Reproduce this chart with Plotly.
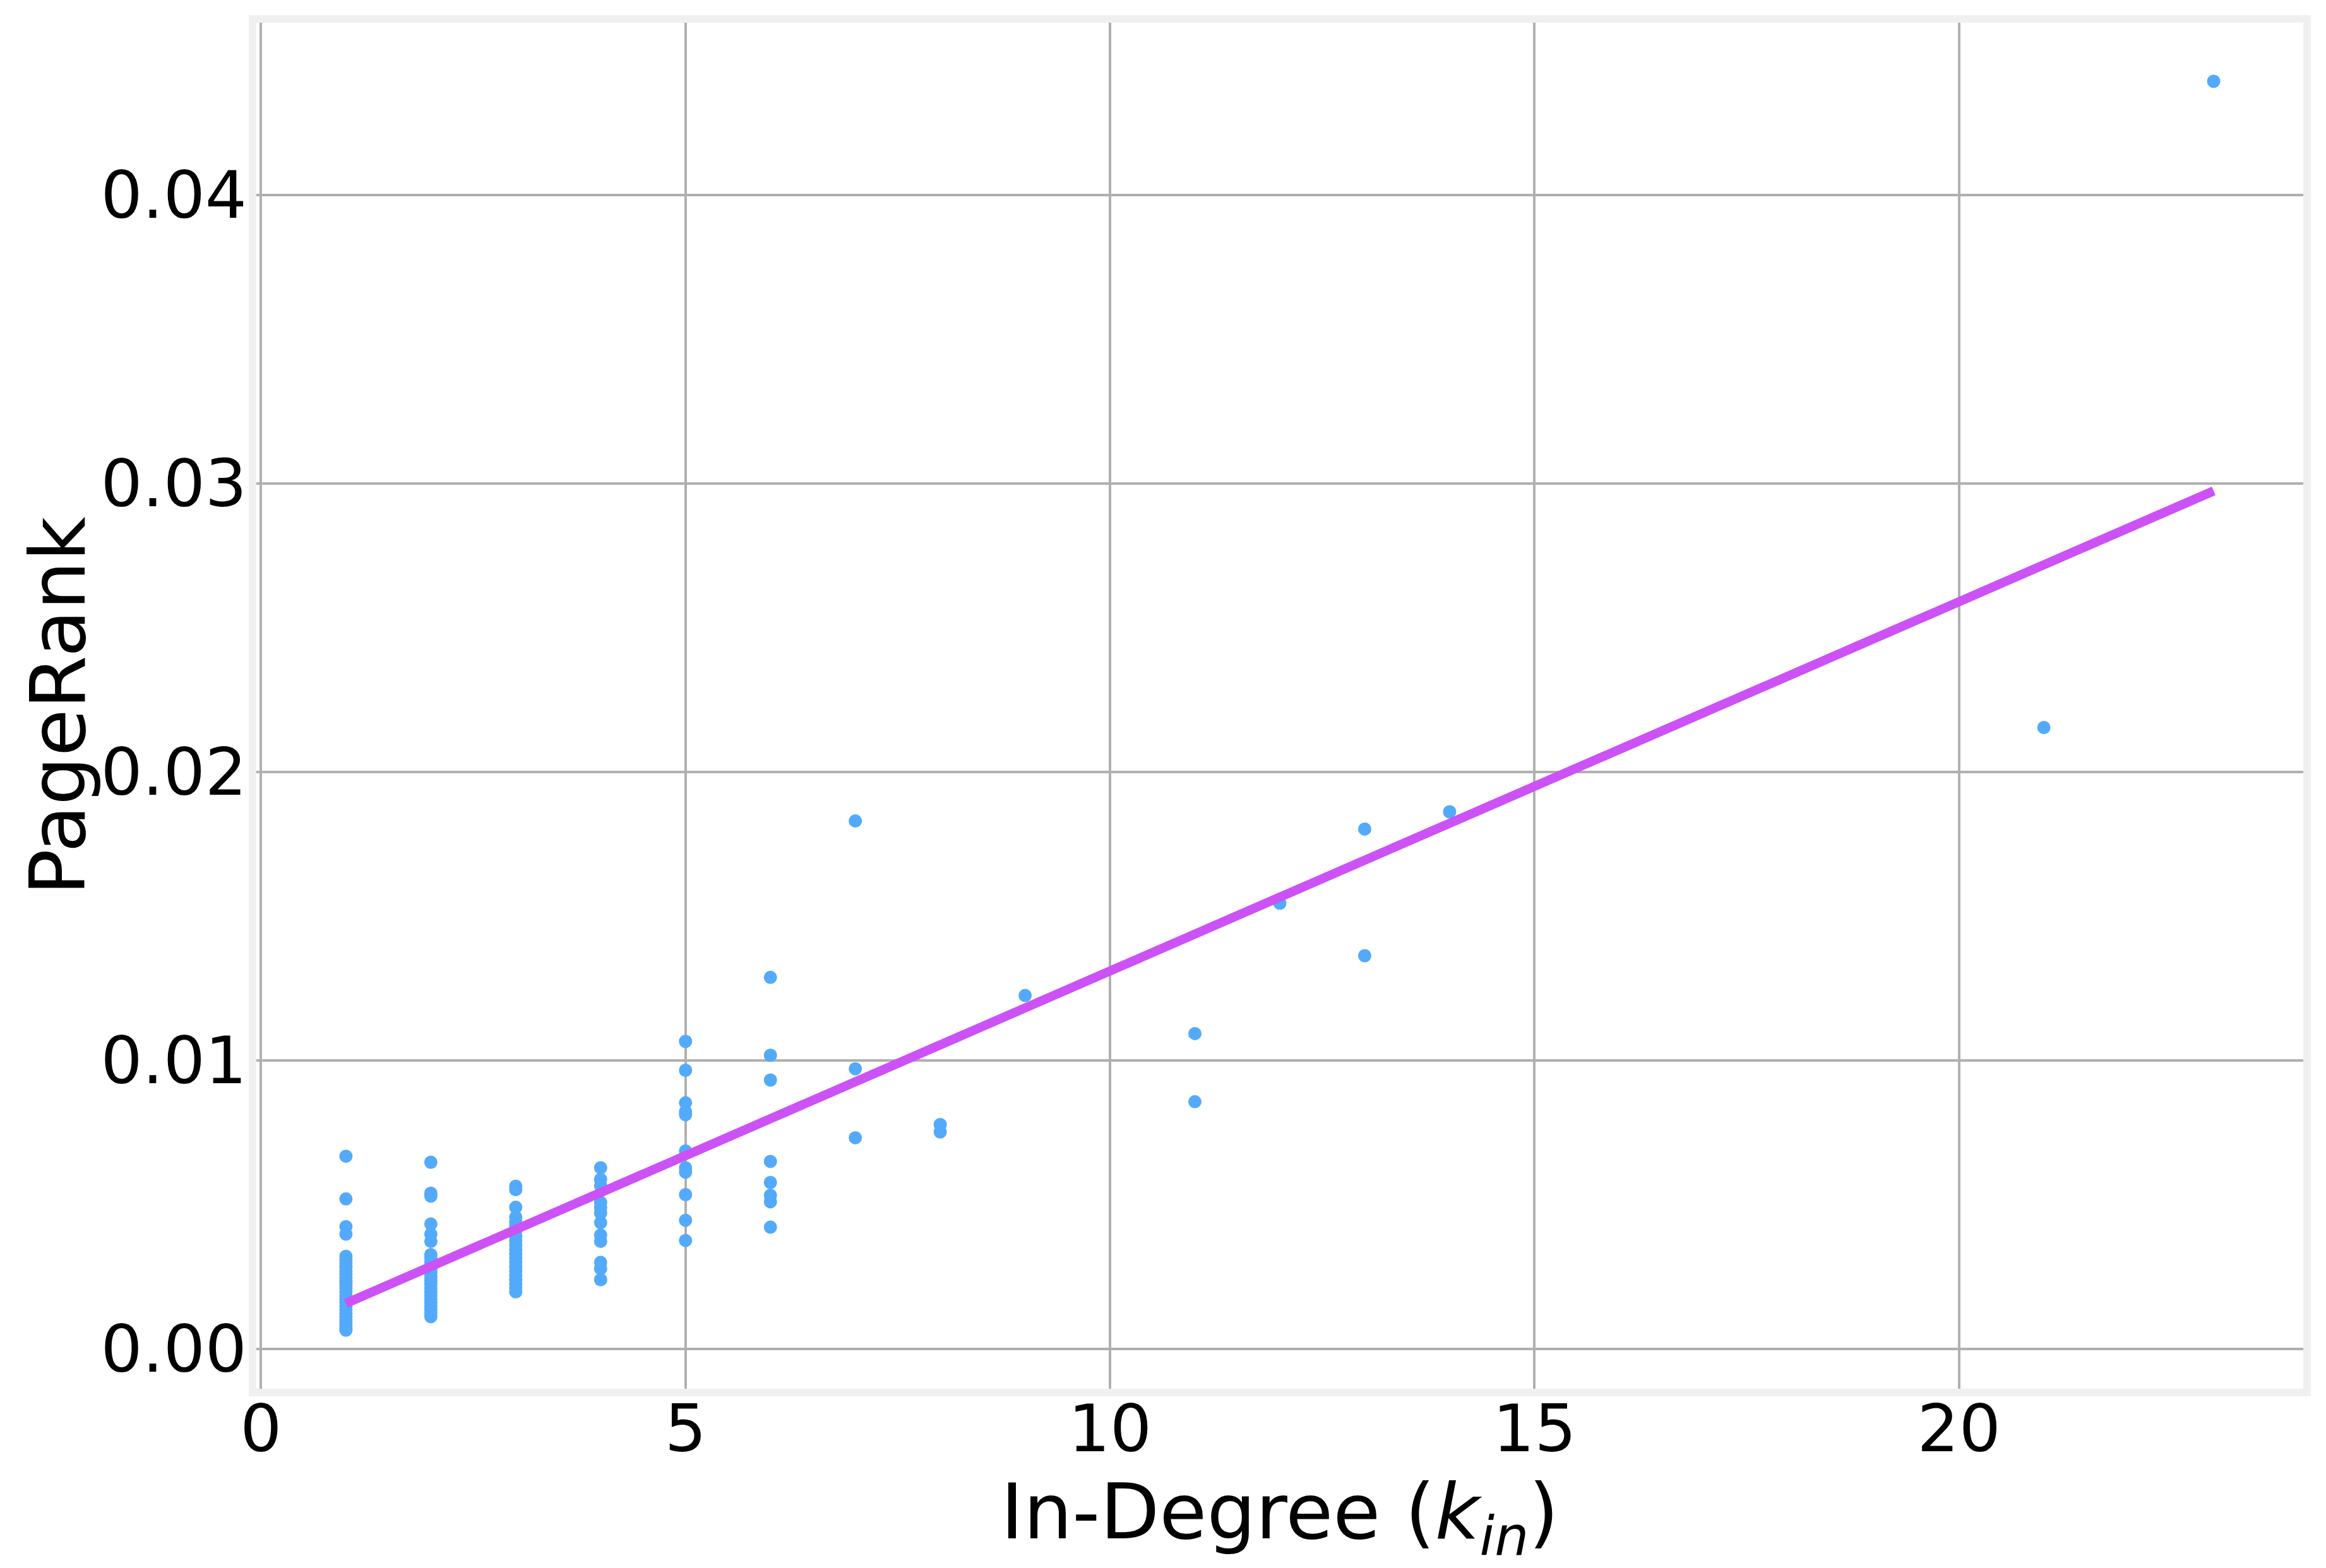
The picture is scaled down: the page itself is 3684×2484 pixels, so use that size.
import plotly.graph_objects as go

# PageRank values, grouped by in-degree
pr_k1 = [0.00668, 0.0052, 0.00424, 0.00398, 0.00321, 0.0031, 0.00298, 0.00285,
         0.0027, 0.0026, 0.00248, 0.00235, 0.00222, 0.0021, 0.00198, 0.00185,
         0.00172, 0.0016, 0.00148, 0.00136, 0.00124, 0.00112, 0.001, 0.0009,
         0.0008, 0.00072, 0.00065]
pr_k2 = [0.00647, 0.0054, 0.0053, 0.00433, 0.00398, 0.00373, 0.00327, 0.00315,
         0.003, 0.0029, 0.00278, 0.00265, 0.0025, 0.00238, 0.00225, 0.0021,
         0.00198, 0.00185, 0.00172, 0.0016, 0.00148, 0.00136, 0.00124, 0.00112]
pr_k3 = [0.00564, 0.00552, 0.00491, 0.00457, 0.0044, 0.00425, 0.0041, 0.0039,
         0.00375, 0.0036, 0.00345, 0.0033, 0.00315, 0.003, 0.00285, 0.0027,
         0.00255, 0.0024, 0.00225, 0.0021, 0.00198]
pr_k4 = [0.00628, 0.00588, 0.00566, 0.00508, 0.0049, 0.00471, 0.00438, 0.00395,
         0.00373, 0.003, 0.00278, 0.0024]
pr_k5 = [0.01066, 0.00966, 0.00853, 0.00822, 0.00812, 0.00686, 0.00628, 0.00613,
         0.00535, 0.00446, 0.00376]
pr_k6 = [0.01288, 0.01018, 0.00932, 0.0065, 0.00577, 0.00533, 0.0051, 0.00422]
pr_k7 = [0.0183, 0.00971, 0.00732]
pr_k8 = [0.00778, 0.00752]
pr_k9 = [0.01225]
pr_k11 = [0.01093, 0.00857]
pr_k12 = [0.01545]
pr_k13 = [0.01802, 0.01363]
pr_k14 = [0.01862]
pr_k21 = [0.02154]
pr_k23 = [0.04394]

degrees = [1, 2, 3, 4, 5, 6, 7, 8, 9, 11, 12, 13, 14, 21, 23]
groups = [pr_k1, pr_k2, pr_k3, pr_k4, pr_k5, pr_k6, pr_k7, pr_k8, pr_k9,
          pr_k11, pr_k12, pr_k13, pr_k14, pr_k21, pr_k23]

# linear fit line (end points)
fit_x = [1, 23]
fit_y = [0.00158, 0.02974]

x_ticks = [0, 5, 10, 15, 20]
y_ticks = [0.0, 0.01, 0.02, 0.03, 0.04]
y_tick_text = ["0.00", "0.01", "0.02", "0.03", "0.04"]

# flatten
k_in, pagerank = [], []
for k, vals in zip(degrees, groups):
    k_in += [k] * len(vals)
    pagerank += vals

FONT = "DejaVu Sans"

fig = go.Figure()

fig.add_trace(go.Scatter(
    x=k_in, y=pagerank,
    mode="markers",
    marker=dict(color="#53aafa", size=21, line=dict(width=0)),
    showlegend=False,
))

fig.add_trace(go.Scatter(
    x=fit_x, y=fit_y,
    mode="lines",
    line=dict(color="#cc52f6", width=14.5),
    showlegend=False,
))

fig.update_layout(
    width=3684,
    height=2484,
    margin=dict(l=400, r=30, t=30, b=278),
    paper_bgcolor="white",
    plot_bgcolor="white",
    font=dict(family=FONT, color="black"),
    xaxis=dict(
        range=[-0.1, 24.1],
        tickvals=x_ticks,
        ticks="",
        ticklabelstandoff=-12,
        showgrid=True, gridcolor="#b0b0b0", gridwidth=4,
        zeroline=False, showline=False,
        tickfont=dict(size=104, family=FONT),
        title=dict(text="In-Degree (<i>k</i><sub><i>in</i></sub>)",
                   font=dict(size=122, family=FONT), standoff=20),
        automargin=False,
    ),
    yaxis=dict(
        range=[-0.00151, 0.0461],
        tickvals=y_ticks,
        ticktext=y_tick_text,
        ticks="",
        ticklabelstandoff=8,
        showgrid=True, gridcolor="#b0b0b0", gridwidth=4,
        zeroline=False, showline=False,
        tickfont=dict(size=104, family=FONT),
        automargin=False,
    ),
    # y title as a rotated annotation so it can sit a bit closer to the ticks
    annotations=[dict(
        text="PageRank", textangle=-90,
        xref="paper", yref="paper", x=-0.0948, y=0.5,
        xanchor="center", yanchor="middle", showarrow=False,
        font=dict(size=122, family=FONT, color="black"),
    )],
    shapes=[dict(
        type="rect", xref="paper", yref="paper",
        x0=0, x1=1, y0=0, y1=1,
        line=dict(color="#f0f0f0", width=12),
        layer="above",
    )],
)

fig.write_html("out.html", config={"displayModeBar": False},
               post_script="document.body.style.margin='0';")
